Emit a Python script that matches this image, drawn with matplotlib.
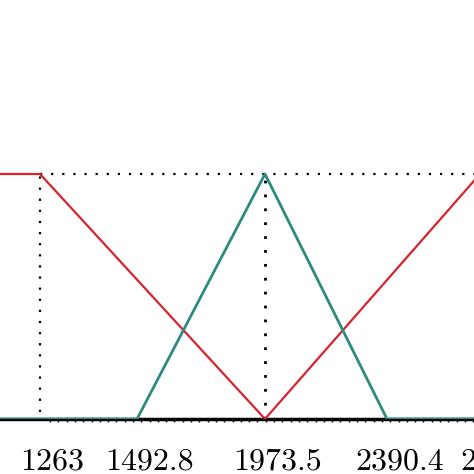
import numpy as np
import matplotlib
matplotlib.use("Agg")
import matplotlib.pyplot as plt
from matplotlib.scale import FuncScale
from matplotlib.ticker import FixedLocator, NullLocator

# breakpoints of the membership functions (x values shown on the axis)
breaks = [1263, 1492.8, 1973.5, 2390.4, 2684]
break_labels = ["1263", "1492.8", "1973.5", "2390.4", "2684"]

# red: left trapezoid + right rising shoulder
red_x = [1000, 1263, 1973.5, 2684]
red_y = [1, 1, 0, 1]
# teal: triangle centred on 1973.5
teal_x = [1000, 1492.8, 1973.5, 2390.4, 2900]
teal_y = [0, 0, 1, 0, 0]

RED = "#d8232c"
TEAL = "#2c8a7e"

# the original axis is not evenly spaced: map breakpoints to screen units
pos = np.array([40, 137, 265, 387, 480], float)
vals = np.array(breaks, float)
s0 = (pos[1] - pos[0]) / (vals[1] - vals[0])
s1 = (pos[-1] - pos[-2]) / (vals[-1] - vals[-2])


def fwd(x):
    x = np.asarray(x, float)
    u = np.interp(x, vals, pos)
    u = np.where(x < vals[0], pos[0] + (x - vals[0]) * s0, u)
    u = np.where(x > vals[-1], pos[-1] + (x - vals[-1]) * s1, u)
    return u


def inv(u):
    u = np.asarray(u, float)
    x = np.interp(u, pos, vals)
    x = np.where(u < pos[0], vals[0] + (u - pos[0]) / s0, x)
    x = np.where(u > pos[-1], vals[-1] + (u - pos[-1]) / s1, x)
    return x


W = 474
fig = plt.figure(figsize=(4.74, 4.74), dpi=100)
ax = fig.add_axes([0, 55 / W, 1, 245 * 1.6 / W])
ax.set_xscale(FuncScale(ax.xaxis, (fwd, inv)))
ax.set_xlim(float(inv(0)), float(inv(W)))
ax.set_ylim(0, 1.6)

ax.plot(red_x, red_y, color=RED, lw=1.6, zorder=3)
ax.plot(teal_x, teal_y, color=TEAL, lw=2.0, zorder=4)

# dotted guide lines
dot = (0, (1, 4))
ax.plot([breaks[0], 3200], [1, 1], color="k", lw=1.6, ls=dot, zorder=2)
ax.plot([breaks[0], breaks[0]], [0.03, 1], color="k", lw=1.6, ls=dot, zorder=2)
ax.plot([breaks[2], breaks[2]], [0, 1], color="k", lw=2.0, ls=dot, zorder=2)

for sp in ("left", "right", "top"):
    ax.spines[sp].set_visible(False)
ax.spines["bottom"].set_position(("data", 0))
ax.spines["bottom"].set_linewidth(2.5)
ax.spines["bottom"].set_zorder(2.5)
ax.yaxis.set_major_locator(NullLocator())
ax.xaxis.set_major_locator(NullLocator())
ax.xaxis.set_minor_locator(FixedLocator(inv(np.arange(50, W, 8.3))))
ax.tick_params(axis="x", which="minor", direction="out", length=2.5,
               width=1.0, color="k")

for v, lab in zip(breaks, break_labels):
    ax.annotate(lab, (v, 0), xytext=(9, -36), textcoords="offset points",
                ha="center", va="baseline", fontsize=23, family="cmr10",
                annotation_clip=False)

fig.savefig("out.png", dpi=100)
